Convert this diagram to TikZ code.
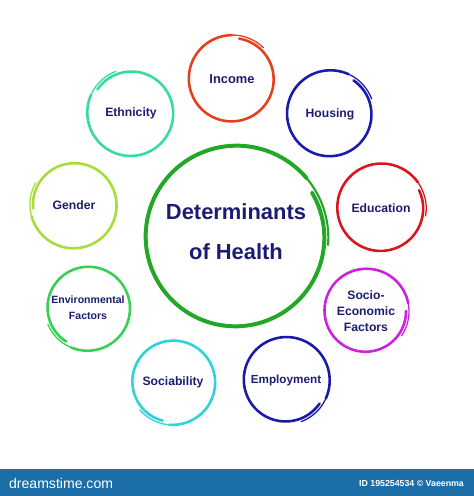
\documentclass[tikz,border=0pt]{standalone}
\usepackage{fontspec}
\setmainfont{Liberation Sans}
\usepackage{tikz}
\usetikzlibrary{shapes}
\definecolor{navy}{HTML}{1C1C72}
\definecolor{incomered}{HTML}{E2401E}
\definecolor{houseblue}{HTML}{1A1AAE}
\definecolor{edured}{HTML}{D8161E}
\definecolor{socmag}{HTML}{CC22DD}
\definecolor{empblue}{HTML}{1A1AA8}
\definecolor{sociocyan}{HTML}{2FD2D8}
\definecolor{envgreen}{HTML}{36CF58}
\definecolor{gendlime}{HTML}{A6DE38}
\definecolor{ethteal}{HTML}{36DC98}
\definecolor{maingreen}{HTML}{22A826}
\definecolor{barblue}{HTML}{1B6EA8}
\tikzstyle{factor}=[circle,inner sep=0mm,minimum size=2.5cm,align=center,text=navy,font=\bfseries\fontsize{10.4}{13.7}\selectfont]
\tikzstyle{topic}=[circle,inner sep=0mm,minimum size=5.4cm,align=center,text=navy,font=\bfseries\fontsize{18.7}{34}\selectfont]
\tikzstyle{ring}=[line width=2.2pt,line cap=round]
\tikzstyle{tail}=[line width=1.1pt,line cap=round]
\tikzset{every picture/.style={x=0.03cm,y=0.03cm}}
% brush ring round a node: node, radius, start angle, colour
\newcommand{\brushring}[4]{%
  \begin{scope}[shift={(#1.center)}]
    \draw[ring,#4] plot[domain=0:350,samples=80] ({#3-\x}:{#2+\x/120});
    \draw[tail,#4] plot[domain=345:395,samples=20] ({#3-\x}:{#2+\x/120});
  \end{scope}}

\begin{document}
\begin{tikzpicture}
      \useasboundingbox (0,0) rectangle (474,496);
      \node[topic] at (236,264) (health) {Determinants\\of Health};
      \node[factor,font=\bfseries\fontsize{11}{13}\selectfont] at (232,417) (income) {Income};
      \node[factor] at (330,382) (housing) {Housing};
      \node[factor] at (381,288) (education) {Education};
      \node[factor] at (366,185) (socio) {Socio-\\Economic\\Factors};
      \node[factor,font=\bfseries\fontsize{10}{13}\selectfont] at (286,116) (employment) {Employment};
      \node[factor] at (173,114) (sociability) {Sociability};
      \node[factor,font=\bfseries\fontsize{9}{14}\selectfont] at (88,188) (environment) {Environmental\\Factors};
      \node[factor] at (74,291) (gender) {Gender};
      \node[factor] at (131,383) (ethnicity) {Ethnicity};
      % the rings
      \brushring{income}{41}{80}{incomered}
      \brushring{housing}{41}{55}{houseblue}
      \brushring{education}{42}{25}{edured}
      \brushring{socio}{40}{0}{socmag}
      \brushring{employment}{41}{-35}{empblue}
      \brushring{sociability}{40}{-105}{sociocyan}
      \brushring{environment}{40}{-123}{envgreen}
      \brushring{gender}{41}{-175}{gendlime}
      \brushring{ethnicity}{41}{145}{ethteal}
      \begin{scope}[shift={(health.center)},yshift=-0.15cm]
        \draw[maingreen,line width=3.4pt,line cap=round] plot[domain=0:350,samples=120] ({30-\x}:{88+\x/90});
        \draw[maingreen,line width=1.8pt,line cap=round] plot[domain=345:395,samples=30] ({30-\x}:{88+\x/90});
      \end{scope}
      % stock bar
      \fill[barblue] (0,0) rectangle (474,27);
      \node[anchor=west,text=white,font=\fontsize{12}{12}\selectfont] at (5,13) (site) {dreamstime.com};
      \node[anchor=east,text=white,font=\bfseries\fontsize{7.5}{8}\selectfont] at (468,13) (imageid) {ID 195254534 © Vaeenma};
    \end{tikzpicture}
\end{document}
